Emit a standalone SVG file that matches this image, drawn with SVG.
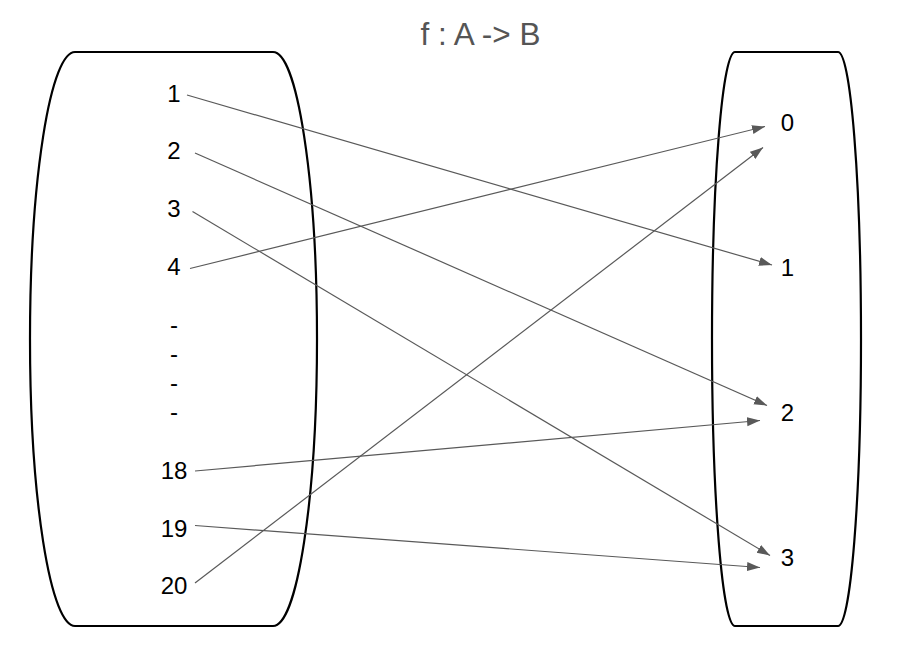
<svg xmlns="http://www.w3.org/2000/svg" width="902" height="661" viewBox="0 0 902 661">
<style>
.set{fill:#ffffff;stroke:#000000;stroke-width:2.2}
.lbl{font-family:"Liberation Sans",Arial,sans-serif;font-size:24px;fill:#000000;text-anchor:middle}
.title{font-family:"Liberation Sans",Arial,sans-serif;font-size:31.5px;fill:#555555;text-anchor:middle}
.edge{fill:none;stroke:#595959;stroke-width:1.2;marker-end:url(#ah)}
</style>
<defs>
<marker id="ah" markerUnits="userSpaceOnUse" markerWidth="14" markerHeight="10" refX="13" refY="4.5" orient="auto">
<path d="M0,0 L13,4.5 L0,9 Z" fill="#595959"/>
</marker>
</defs>
<rect width="902" height="661" fill="#ffffff"/>
<text id="title" class="title" x="480.5" y="45">f : A -&gt; B</text>
<g id="setA">
<path class="set" d="M75,52 L273,52 A44,287 0 0 1 273,626 L75,626 A45,287 0 0 1 75,52 Z"/>
<text class="lbl" x="174" y="102">1</text>
<text class="lbl" x="174" y="159">2</text>
<text class="lbl" x="174" y="217">3</text>
<text class="lbl" x="174" y="275">4</text>
<text class="lbl" x="174" y="333">-</text>
<text class="lbl" x="174" y="362">-</text>
<text class="lbl" x="174" y="391">-</text>
<text class="lbl" x="174" y="420">-</text>
<text class="lbl" x="174" y="479">18</text>
<text class="lbl" x="174" y="537">19</text>
<text class="lbl" x="174" y="594">20</text>
</g>
<g id="setB">
<path class="set" d="M735,52 L838,52 A23,287 0 0 1 838,626 L735,626 A23,287 0 0 1 735,52 Z"/>
<text class="lbl" x="787.5" y="131">0</text>
<text class="lbl" x="787.5" y="276">1</text>
<text class="lbl" x="787.5" y="421">2</text>
<text class="lbl" x="787.5" y="566">3</text>
</g>
<g id="connectors">
<line class="edge" x1="187" y1="95" x2="772" y2="265"/>
<line class="edge" x1="195" y1="153" x2="767" y2="405.5"/>
<line class="edge" x1="192.5" y1="211.5" x2="770" y2="555.5"/>
<line class="edge" x1="190" y1="268.5" x2="765" y2="126.5"/>
<line class="edge" x1="195" y1="471" x2="760" y2="420.5"/>
<line class="edge" x1="195" y1="525.5" x2="760" y2="567.5"/>
<line class="edge" x1="195" y1="583" x2="763" y2="147.5"/>
</g>
</svg>
